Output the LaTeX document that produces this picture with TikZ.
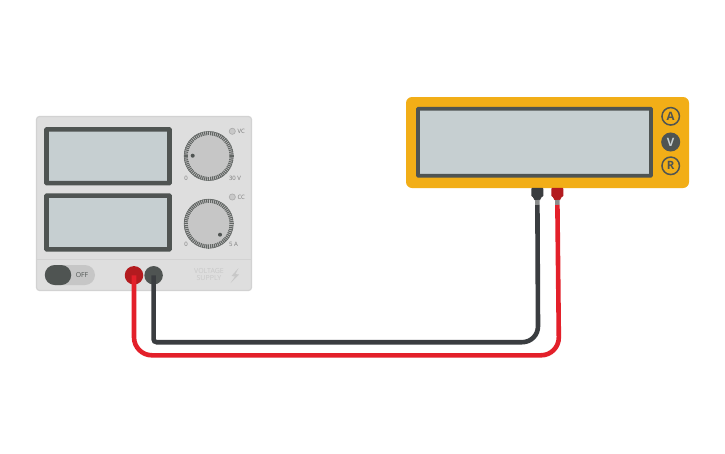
\documentclass[tikz,border=0pt]{standalone}
\usepackage{fontspec}
\setmainfont{Open Sans}
\definecolor{panel}{HTML}{DEDEDE}
\definecolor{panelline}{HTML}{D2D2D2}
\definecolor{lcd}{HTML}{C6CFD1}
\definecolor{dark}{HTML}{4F5452}
\definecolor{knobc}{HTML}{C6C6C6}
\definecolor{amber}{HTML}{F2AE17}
\definecolor{wirered}{HTML}{E3202A}
\definecolor{wireblack}{HTML}{3A3D40}
\definecolor{termred}{HTML}{B31B1F}
\definecolor{stub}{HTML}{8A8C8C}
\definecolor{faint}{HTML}{C8C8C8}
\definecolor{labelc}{HTML}{7A7A7A}
\tikzset{
  lcdbox/.style={draw=dark,line width=4.6pt,fill=lcd,rounded corners=0.6pt,minimum width=123pt,inner sep=0pt,outer sep=0pt},
  terminal/.style={circle,minimum size=18.5pt,inner sep=0pt,outer sep=0pt},
  led/.style={circle,draw=faint!85!black,fill=faint,line width=0.6pt,minimum size=6.2pt,inner sep=0pt},
  knobdot/.style={circle,fill=dark,minimum size=4pt,inner sep=0pt},
  small/.style={font=\fontsize{6}{6.5}\selectfont,text=labelc,inner sep=0pt},
  modebtn/.style={circle,draw=dark,line width=1.5pt,minimum size=17.5pt,inner sep=0pt,font=\fontsize{11.5}{12}\selectfont\bfseries,text=dark},
  wirestyle/.style={line width=4.6pt,line cap=butt},
}
\newcommand{\dial}[2]{%
  \fill[knobc] (#1,#2) circle (24.6pt);
  \foreach \a in {0,5,...,355}{\draw[dark!85!knobc,line width=1.1pt] ($(#1,#2)+(\a:20.6pt)$) -- ($(#1,#2)+(\a:24.8pt)$);}
  \draw[dark!80!knobc,line width=0.6pt] (#1,#2) circle (24.5pt);
  \fill[knobc] (#1,#2) circle (20.6pt);
}
\usetikzlibrary{calc}
\begin{document}
\begin{tikzpicture}[x=1pt,y=-1pt]
\useasboundingbox (0,0) rectangle (725,453);
\fill[white] (0,0) rectangle (725,453);
% power supply
\node[draw=panelline,line width=1.2pt,fill=panel,rounded corners=3pt,minimum width=215pt,minimum height=174pt,inner sep=0pt,outer sep=0pt] (supply) at (144,203.5) {};
\draw[panelline,line width=1pt] (36.6,259) -- (251.4,259);
\node[lcdbox,minimum height=53.8pt] (disp1) at (108,156.2) {};
\node[lcdbox,minimum height=53.8pt] (disp2) at (108,222.5) {};
\dial{208.7}{156}
\dial{208.7}{223.7}
\node[knobdot] (dot1) at (192.7,155.7) {};
\node[knobdot] (dot2) at (220,234.7) {};
\node[led] (ledv) at (232.3,131.3) {};
\node[led] (ledc) at (232.3,197) {};
\node[small,anchor=west] (vc) at (237.3,131) {VC};
\node[small,anchor=west] (cc) at (237.3,197) {CC};
\node[small] (z1) at (186,178) {0};
\node[small] (v30) at (235,178) {30 V};
\node[small] (z2) at (186,244.5) {0};
\node[small] (a5) at (233.5,244.5) {5 A};
% switch
\node[fill=knobc,rounded corners=10pt,minimum width=50pt,minimum height=20pt,inner sep=0pt] (track) at (70,275) {};
\node[fill=dark,rounded corners=10pt,minimum width=26.5pt,minimum height=20pt,inner sep=0pt] (thumb) at (58,275) {};
\node[font=\fontsize{6.8}{7}\selectfont,text=dark,inner sep=0pt] (off) at (82,275.3) {OFF};
% brand
\node[align=center,font=\fontsize{7}{7.6}\selectfont,text=faint,inner sep=0pt] (brand) at (209,274.5) {VOLTAGE\\SUPPLY};
\fill[faint] (238.5,268) -- (231.5,276) -- (235,276.5) -- (230.5,283) -- (239,274.5) -- (235.5,274) -- cycle;
% terminals
\node[terminal,fill=termred] (tred) at (134,275.3) {};
\node[terminal,fill=dark] (tblk) at (153.6,275.3) {};
% multimeter
\node[fill=amber,rounded corners=6pt,minimum width=283pt,minimum height=91pt,inner sep=0pt,outer sep=0pt] (meter) at (547.5,142.5) {};
\node[draw=dark,line width=3.8pt,fill=lcd,rounded corners=0.6pt,minimum width=233pt,minimum height=67pt,inner sep=0pt,outer sep=0pt] (mdisp) at (534.5,142.3) {};
\node[modebtn] (ba) at (670.7,116.3) {A};
\node[modebtn,fill=dark,text=lcd] (bv) at (670.7,142) {V};
\node[modebtn] (br) at (670.7,165.8) {R};
% meter connectors
\node[fill=wireblack,rounded corners=1pt,minimum width=12pt,minimum height=9pt,inner sep=0pt,outer sep=0pt] (cblk) at (537.3,192.3) {};
\node[fill=termred,rounded corners=1pt,minimum width=12pt,minimum height=9pt,inner sep=0pt,outer sep=0pt] (cred) at (557.3,192.3) {};
\fill[wireblack] (532.5,196.5) -- (542,196.5) -- (540,200) -- (534.5,200) -- cycle;
\fill[termred] (552.5,196.5) -- (562,196.5) -- (560,200) -- (554.5,200) -- cycle;
\coordinate (ublk) at (537.4,205);
\coordinate (ured) at (557.4,205);
\draw[stub,line width=4.6pt] (537.3,200) -- (ublk);
\draw[stub,line width=4.6pt] (557.3,200) -- (ured);
% wires
\coordinate (kb1) at (153.6,342.2);
\coordinate (kb2) at (538,342.2);
\coordinate (kr1) at (134,355.3);
\coordinate (kr2) at (559,355.3);
\draw[wireblack,wirestyle] (tblk.center) -- ([yshift=3pt]kb1) .. controls ([yshift=1.3pt]kb1) and ([xshift=1.3pt]kb1) .. ([xshift=3pt]kb1) -- ([xshift=-16pt]kb2) .. controls ([xshift=-7pt]kb2) and ([yshift=7pt]kb2) .. ([yshift=16pt]kb2) -- (ublk);
\draw[wirered,wirestyle,rounded corners=18pt] (tred.center) -- (kr1) -- (kr2) -- (ured);
\end{tikzpicture}
\end{document}
